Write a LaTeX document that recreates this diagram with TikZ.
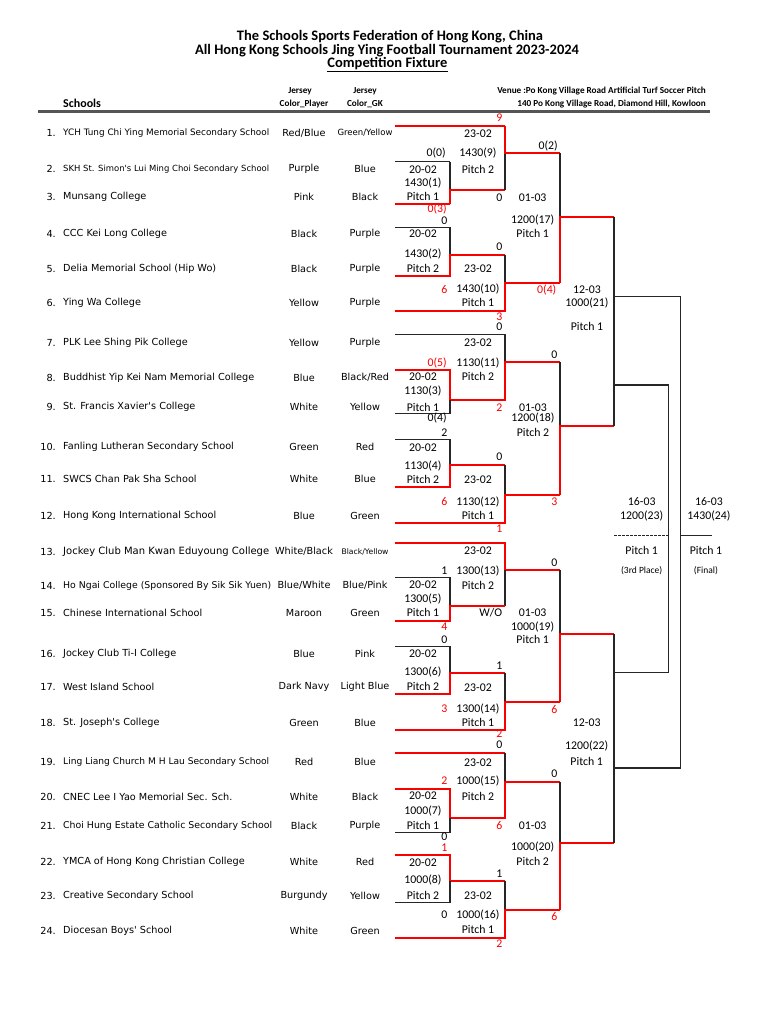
\documentclass[tikz,border=0pt]{standalone}
\usepackage{fontspec}
\usepackage{graphicx}
\setmainfont{Carlito}
\newfontfamily\nmf{DejaVu Sans}
\newfontfamily\lbf{Carlito}
\definecolor{lred}{RGB}{250,0,0}
\definecolor{lgray}{RGB}{85,85,85}
\newcommand{\SchoolRow}[5]{%
  \node[numst] (num#1) at (56,#2) {#1.};
  \node[nmst] (sch#1) at (63,#2) {#3};
  \node[colst] (pl#1) at (304,#2) {#4};
  \node[colst] (gk#1) at (365,#2) {#5};}
\newcommand{\fitto}[2]{\resizebox{#1pt}{!}{#2}}
\begin{document}
\begin{tikzpicture}[x=1pt,y=-1pt,
  kl/.style={line width=1.2pt, black!85},
  rl/.style={line width=2.2pt, lred},
  lb/.style={font=\lbf\fontsize{11.8}{13}\selectfont, inner sep=0pt},
  sk/.style={lb, anchor=east},
  sr/.style={lb, anchor=east, text=lred},
  numst/.style={font=\nmf\fontsize{9.7}{11}\selectfont, inner sep=0pt, anchor=east},
  nmst/.style={font=\nmf\fontsize{9.7}{11}\selectfont, inner sep=0pt, anchor=west},
  colst/.style={font=\nmf\fontsize{9.7}{11}\selectfont, inner sep=0pt},
  hd/.style={font=\bfseries\fontsize{14.5}{16}\selectfont, inner sep=0pt},
  hs/.style={font=\bfseries\fontsize{9.2}{10}\selectfont, inner sep=0pt},
  ]
\useasboundingbox (0,0) rectangle (768,1024);
\fill[white] (0,0) rectangle (768,1024);

% ---------- header ----------
\node[hd] (t1) at (390,37) {The Schools Sports Federation of Hong Kong, China};
\node[hd] (t2) at (387,51) {All Hong Kong Schools Jing Ying Football Tournament 2023-2024};
\node[hd] (t3) at (387.5,65) {\underline{Competition Fixture}};
\node[hs] (j1) at (300,91) {Jersey};
\node[hs] (j2) at (304,104) {Color\_Player};
\node[hs] (j3) at (365,91) {Jersey};
\node[hs] (j4) at (365,104) {Color\_GK};
\node[font=\bfseries\fontsize{12}{14}\selectfont, inner sep=0pt, anchor=west] (schh) at (63,103) {Schools};
\node[hs, anchor=east] (v1) at (706,91) {Venue :Po Kong Village Road Artificial Turf Soccer Pitch};
\node[hs, anchor=east] (v2) at (706,104) {140 Po Kong Village Road, Diamond Hill, Kowloon};
\draw[line width=2.8pt, lgray] (38,111.5) -- (710,111.5);

% ---------- schools ----------
\SchoolRow{1}{133}{\fitto{206}{YCH Tung Chi Ying Memorial Secondary School}}{Red/Blue}{\fitto{55}{Green/Yellow}}
\SchoolRow{2}{169.3}{\fitto{206}{SKH St. Simon's Lui Ming Choi Secondary School}}{Purple}{Blue}
\SchoolRow{3}{196.7}{Munsang College}{Pink}{Black}
\SchoolRow{4}{234}{CCC Kei Long College}{Black}{Purple}
\SchoolRow{5}{269}{Delia Memorial School (Hip Wo)}{Black}{Purple}
\SchoolRow{6}{303.3}{Ying Wa College}{Yellow}{Purple}
\SchoolRow{7}{342.7}{PLK Lee Shing Pik College}{Yellow}{Purple}
\SchoolRow{8}{377.7}{Buddhist Yip Kei Nam Memorial College}{Blue}{Black/Red}
\SchoolRow{9}{407.3}{St. Francis Xavier's College}{White}{Yellow}
\SchoolRow{10}{447.3}{Fanling Lutheran Secondary School}{Green}{Red}
\SchoolRow{11}{479.3}{SWCS Chan Pak Sha School}{White}{Blue}
\SchoolRow{12}{515.7}{Hong Kong International School}{Blue}{Green}
\SchoolRow{13}{551.7}{\fitto{206}{Jockey Club Man Kwan Eduyoung College}}{White/Black}{\fitto{47}{Black/Yellow}}
\SchoolRow{14}{585.7}{\fitto{208}{Ho Ngai College (Sponsored By Sik Sik Yuen)}}{Blue/White}{Blue/Pink}
\SchoolRow{15}{613.3}{Chinese International School}{Maroon}{Green}
\SchoolRow{16}{654.3}{Jockey Club Ti-I College}{Blue}{Pink}
\SchoolRow{17}{687.3}{West Island School}{Dark Navy}{Light Blue}
\SchoolRow{18}{722.7}{St. Joseph's College}{Green}{Blue}
\SchoolRow{19}{761.7}{\fitto{206}{Ling Liang Church M H Lau Secondary School}}{Red}{Blue}
\SchoolRow{20}{796.7}{CNEC Lee I Yao Memorial Sec. Sch.}{White}{Black}
\SchoolRow{21}{825.7}{\fitto{209}{Choi Hung Estate Catholic Secondary School}}{Black}{Purple}
\SchoolRow{22}{862.3}{YMCA of Hong Kong Christian College}{White}{Red}
\SchoolRow{23}{895.7}{Creative Secondary School}{Burgundy}{Yellow}
\SchoolRow{24}{930.7}{Diocesan Boys' School}{White}{Green}

% ---------- bracket: quarter 1 ----------
\draw[rl] (395,125.7) -- (505,125.7);
\draw[kl] (395,161.7) -- (450,161.7);
\draw[rl] (395,204.3) -- (450,204.3);
\draw[kl] (450,161.7) -- (450,190);
\draw[rl] (450,204.3) -- (450,190) -- (505,190);
\draw[kl] (505,153.3) -- (505,190);
\draw[rl] (505,125.7) -- (505,153.3) -- (560,153.3);
\draw[kl] (395,227.7) -- (450,227.7) -- (450,255);
\draw[rl] (395,275.7) -- (450,275.7) -- (450,255) -- (505,255);
\draw[kl] (505,255) -- (505,283.3);
\draw[rl] (395,311) -- (505,311) -- (505,283.3) -- (560,283.3);
\draw[kl] (560,153.3) -- (560,216.7);
\draw[rl] (560,283.3) -- (560,216.7) -- (614,216.7);

% ---------- quarter 2 ----------
\draw[kl] (395,334.3) -- (505,334.3) -- (505,362);
\draw[rl] (395,370) -- (450,370) -- (450,400) -- (505,400) -- (505,362) -- (560,362);
\draw[kl] (395,413.3) -- (450,413.3) -- (450,400);
\draw[kl] (395,439.3) -- (450,439.3) -- (450,465);
\draw[rl] (395,487.3) -- (450,487.3) -- (450,465) -- (505,465);
\draw[kl] (505,465) -- (505,495);
\draw[rl] (395,523.3) -- (505,523.3) -- (505,495) -- (560,495);
\draw[kl] (560,362) -- (560,426);
\draw[rl] (560,495) -- (560,426) -- (614,426);

% ---------- quarter 3 ----------
\draw[rl] (395,542.7) -- (505,542.7) -- (505,570) -- (560,570);
\draw[kl] (505,570) -- (505,606);
\draw[kl] (395,577.7) -- (450,577.7) -- (450,606);
\draw[rl] (395,620.7) -- (450,620.7) -- (450,606) -- (505,606);
\draw[kl] (395,646.7) -- (450,646.7) -- (450,673.3);
\draw[rl] (395,694) -- (450,694) -- (450,673.3) -- (505,673.3);
\draw[kl] (505,673.3) -- (505,701.7);
\draw[rl] (395,730) -- (505,730) -- (505,701.7) -- (560,701.7);
\draw[kl] (560,570) -- (560,634.3);
\draw[rl] (560,701.7) -- (560,634.3) -- (614,634.3);

% ---------- quarter 4 ----------
\draw[rl] (395,753.3) -- (505,753.3);
\draw[kl] (505,753.3) -- (505,781.7);
\draw[rl] (395,789) -- (450,789) -- (450,817.7) -- (505,817.7) -- (505,781.7) -- (560,781.7);
\draw[kl] (395,832.3) -- (450,832.3) -- (450,817.7);
\draw[rl] (395,855) -- (450,855) -- (450,880.7) -- (505,880.7);
\draw[kl] (395,902.3) -- (450,902.3) -- (450,880.7);
\draw[kl] (505,880.7) -- (505,910);
\draw[rl] (395,938.3) -- (505,938.3) -- (505,910) -- (560,910);
\draw[kl] (560,781.7) -- (560,843.3);
\draw[rl] (560,910) -- (560,843.3) -- (614,843.3);

% ---------- semifinals, 3rd place, final ----------
\draw[kl] (614,216.7) -- (614,426);
\draw[kl] (614,634.3) -- (614,843.3);
\draw[kl] (614,296.7) -- (680.7,296.7) -- (680.7,768) -- (614,768);
\draw[kl] (614,385) -- (668.3,385) -- (668.3,672.7) -- (614,672.7);
\draw[kl, dashed, dash pattern=on 2.5pt off 1.5pt] (614,535.7) -- (668.3,535.7);
\draw[kl] (680.7,535.7) -- (712,535.7);

% ---------- round 1 labels ----------
\node[lb] (m1d) at (423,169.3) {20-02};
\node[lb] (m1t) at (423,183.3) {1430(1)};
\node[lb] (m1p) at (423,196.7) {Pitch 1};
\node[lb] (m2d) at (423,234) {20-02};
\node[lb] (m2t) at (423,254.3) {1430(2)};
\node[lb] (m2p) at (423,268.7) {Pitch 2};
\node[lb] (m3d) at (423,377) {20-02};
\node[lb] (m3t) at (423,391) {1130(3)};
\node[lb] (m3p) at (423,407) {Pitch 1};
\node[lb] (m4d) at (423,447.3) {20-02};
\node[lb] (m4t) at (423,465.7) {1130(4)};
\node[lb] (m4p) at (423,479) {Pitch 2};
\node[lb] (m5d) at (423,585) {20-02};
\node[lb] (m5t) at (423,599.3) {1300(5)};
\node[lb] (m5p) at (423,612.3) {Pitch 1};
\node[lb] (m6d) at (423,654) {20-02};
\node[lb] (m6t) at (423,672.3) {1300(6)};
\node[lb] (m6p) at (423,686.7) {Pitch 2};
\node[lb] (m7d) at (423,796) {20-02};
\node[lb] (m7t) at (423,810.7) {1000(7)};
\node[lb] (m7p) at (423,825) {Pitch 1};
\node[lb] (m8d) at (423,862.3) {20-02};
\node[lb] (m8t) at (423,880) {1000(8)};
\node[lb] (m8p) at (423,895) {Pitch 2};

% ---------- round 2 labels ----------
\node[lb] (m9d) at (478,133.3) {23-02};
\node[lb] (m9t) at (478,153.3) {1430(9)};
\node[lb] (m9p) at (478,169) {Pitch 2};
\node[lb] (m10d) at (478,269) {23-02};
\node[lb] (m10t) at (478,289.3) {1430(10)};
\node[lb] (m10p) at (478,302.7) {Pitch 1};
\node[lb] (m11d) at (478,343) {23-02};
\node[lb] (m11t) at (478,362.7) {1130(11)};
\node[lb] (m11p) at (478,376.7) {Pitch 2};
\node[lb] (m12d) at (478,479.3) {23-02};
\node[lb] (m12t) at (478,501.7) {1130(12)};
\node[lb] (m12p) at (478,515) {Pitch 1};
\node[lb] (m13d) at (478,550.7) {23-02};
\node[lb] (m13t) at (478,570.7) {1300(13)};
\node[lb] (m13p) at (478,585) {Pitch 2};
\node[lb] (m14d) at (478,687.3) {23-02};
\node[lb] (m14t) at (478,709) {1300(14)};
\node[lb] (m14p) at (478,722.3) {Pitch 1};
\node[lb] (m15d) at (478,762.3) {23-02};
\node[lb] (m15t) at (478,780.7) {1000(15)};
\node[lb] (m15p) at (478,796) {Pitch 2};
\node[lb] (m16d) at (478,895.7) {23-02};
\node[lb] (m16t) at (478,915) {1000(16)};
\node[lb] (m16p) at (478,929.3) {Pitch 1};

% ---------- quarterfinal labels ----------
\node[lb] (m17d) at (532.7,197.3) {01-03};
\node[lb] (m17t) at (532.7,220) {1200(17)};
\node[lb] (m17p) at (532.7,233.3) {Pitch 1};
\node[lb] (m18d) at (533,407.3) {01-03};
\node[lb] (m18t) at (533,417.7) {1200(18)};
\node[lb] (m18p) at (533,432.3) {Pitch 2};
\node[lb] (m19d) at (532.7,612.7) {01-03};
\node[lb] (m19t) at (532.7,626.7) {1000(19)};
\node[lb] (m19p) at (532.7,639) {Pitch 1};
\node[lb] (m20d) at (532.7,825.7) {01-03};
\node[lb] (m20t) at (532.7,847.3) {1000(20)};
\node[lb] (m20p) at (532.7,861.7) {Pitch 2};

% ---------- semifinal / final labels ----------
\node[lb] (m21d) at (587,289.3) {12-03};
\node[lb] (m21t) at (587,303.3) {1000(21)};
\node[lb] (m21p) at (587,326.5) {Pitch 1};
\node[lb] (m22d) at (586.7,722.7) {12-03};
\node[lb] (m22t) at (586.7,746) {1200(22)};
\node[lb] (m22p) at (586.7,761) {Pitch 1};
\node[lb] (m23d) at (641.7,501.7) {16-03};
\node[lb] (m23t) at (641.7,516.3) {1200(23)};
\node[lb] (m23p) at (641.7,550.7) {Pitch 1};
\node[lb, font=\lbf\fontsize{9.5}{10}\selectfont] (m23n) at (641.7,570.7) {(3rd Place)};
\node[lb] (m24d) at (709,502) {16-03};
\node[lb] (m24t) at (709,516) {1430(24)};
\node[lb] (m24p) at (706,550.7) {Pitch 1};
\node[lb, font=\lbf\fontsize{9.5}{10}\selectfont] (m24n) at (706,570.7) {(Final)};

% ---------- scores ----------
\node[sk] (s1a) at (446,153.3) {0(0)};
\node[sr] (s1b) at (447,209.3) {0(3)};
\node[sk] (s2a) at (447.5,221) {0};
\node[sr] (s2b) at (447.5,289.3) {6};
\node[sr] (s3a) at (447,362.7) {0(5)};
\node[sk] (s3b) at (447,417.7) {0(4)};
\node[sk] (s4a) at (447.5,433) {2};
\node[sr] (s4b) at (447.5,501.7) {6};
\node[sk] (s5a) at (447.5,570.7) {1};
\node[sr] (s5b) at (447.5,626.7) {4};
\node[sk] (s6a) at (447.5,639.3) {0};
\node[sr] (s6b) at (447.5,709) {3};
\node[sr] (s7a) at (447.5,780.7) {2};
\node[sk] (s7b) at (447.5,836.7) {0};
\node[sr] (s8a) at (447.5,847.3) {1};
\node[sk] (s8b) at (447.5,915) {0};

\node[sr] (s9a) at (502.5,117.3) {9};
\node[sk] (s9b) at (502.5,197.3) {0};
\node[sk] (s10a) at (502.5,246.7) {0};
\node[sr] (s10b) at (502.5,316.7) {3};
\node[sk] (s11a) at (502.5,327) {0};
\node[sr] (s11b) at (502.5,408) {2};
\node[sk] (s12a) at (502.5,456.7) {0};
\node[sr] (s12b) at (502.5,529) {1};
\node[sk] (s13b) at (502.5,612.3) {W/O};
\node[sk] (s14a) at (502.5,666) {1};
\node[sr] (s14b) at (502.5,733.3) {2};
\node[sk] (s15a) at (502.5,745) {0};
\node[sr] (s15b) at (502.5,825.7) {6};
\node[sk] (s16a) at (502.5,873.3) {1};
\node[sr] (s16b) at (502.5,943.3) {2};

\node[sk] (s17a) at (558,146) {0(2)};
\node[sr] (s17b) at (556.5,290) {0(4)};
\node[sk] (s18a) at (557.5,354.3) {0};
\node[sr] (s18b) at (557.5,502) {3};
\node[sk] (s19a) at (557.5,562.3) {0};
\node[sr] (s19b) at (557.5,710) {6};
\node[sk] (s20a) at (557.5,773.3) {0};
\node[sr] (s20b) at (557.5,916.7) {6};
\end{tikzpicture}
\end{document}
